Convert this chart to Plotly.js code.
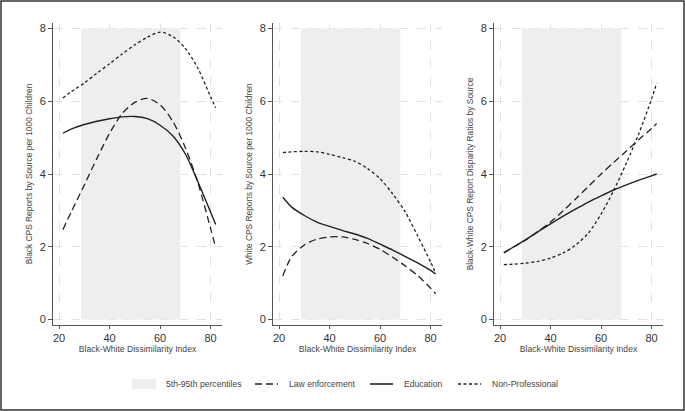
<!DOCTYPE html>
<html>
<head>
<meta charset="utf-8">
<script src="https://cdn.plot.ly/plotly-3.0.1.min.js"></script>
<style>
  html, body { margin: 0; padding: 0; background: #fff; }
  #chart { width: 685px; height: 411px; }
</style>
</head>
<body>
<div id="chart"></div>
<script>
// Black-White dissimilarity index (x) at which each fitted curve was read
const dissim = [21.5, 25, 30, 35, 40, 45, 50, 55, 60, 65, 70, 75, 80, 82];

// Panel 1: Black CPS reports by source per 1000 children
const blackLaw = [2.47, 2.98, 3.70, 4.43, 5.12, 5.66, 5.97, 6.08, 5.90, 5.45, 4.72, 3.75, 2.50, 1.98];
const blackEdu = [5.12, 5.24, 5.36, 5.45, 5.52, 5.57, 5.58, 5.52, 5.34, 5.05, 4.55, 3.78, 2.95, 2.61];
const blackNonPro = [6.09, 6.27, 6.50, 6.77, 7.03, 7.30, 7.55, 7.76, 7.90, 7.78, 7.45, 6.90, 6.12, 5.82];

// Panel 2: White CPS reports by source per 1000 children
const whiteLaw = [1.20, 1.73, 2.05, 2.21, 2.27, 2.27, 2.20, 2.09, 1.93, 1.71, 1.47, 1.20, 0.86, 0.71];
const whiteEdu = [3.36, 3.09, 2.86, 2.68, 2.56, 2.45, 2.35, 2.23, 2.07, 1.91, 1.73, 1.55, 1.35, 1.25];
const whiteNonPro = [4.59, 4.61, 4.62, 4.61, 4.54, 4.45, 4.35, 4.15, 3.87, 3.45, 2.95, 2.28, 1.58, 1.27];

// Panel 3: Black-White disparity ratios by source
const ratioLaw = [1.83, 1.98, 2.18, 2.42, 2.68, 2.99, 3.32, 3.66, 4.00, 4.32, 4.63, 4.95, 5.25, 5.39];
const ratioEdu = [1.84, 1.98, 2.19, 2.41, 2.63, 2.84, 3.04, 3.23, 3.40, 3.56, 3.70, 3.83, 3.95, 4.00];
const ratioNonPro = [1.51, 1.52, 1.55, 1.60, 1.69, 1.83, 2.05, 2.38, 2.90, 3.55, 4.30, 5.12, 6.07, 6.50];

// 5th-95th percentile band of the dissimilarity index
const bandX = [28.6, 68.0];
const bandY = [0, 8];

const seriesNames = ['5th-95th percentiles', 'Law enforcement', 'Education', 'Non-Professional'];
const yTitles = [
    'Black CPS Reports by Source per 1000 Children',
    'White CPS Reports by Source per 1000 Children',
    'Black-White CPS Report Disparity Ratios by Source'
];
const xTitle = 'Black-White Dissimilarity Index';
const xTicks = [20, 40, 60, 80];
const yTicks = [0, 2, 4, 6, 8];

const W = 685, H = 411;
const INK = '#222';
const FONT = 'Liberation Sans, Arial, sans-serif';
const dashStyles = { law: '7px,4px', edu: 'solid', nonpro: '3px,2.5px' };

const panels = [
    { law: blackLaw, edu: blackEdu, nonpro: blackNonPro, left: 53 },
    { law: whiteLaw, edu: whiteEdu, nonpro: whiteNonPro, left: 273 },
    { law: ratioLaw, edu: ratioEdu, nonpro: ratioNonPro, left: 494 }
];
const panelWidth = 169;

const traces = [];
const layout = {
    width: W, height: H,
    margin: { l: 0, r: 0, t: 0, b: 0 },
    paper_bgcolor: '#fff',
    plot_bgcolor: '#fff',
    font: { family: FONT, color: '#333' },
    showlegend: false,
    shapes: [],
    annotations: []
};

panels.forEach((p, i) => {
    const sfx = i === 0 ? '' : String(i + 1);
    const xa = 'x' + sfx, ya = 'y' + sfx;

    // shaded percentile band
    traces.push({
        type: 'scatter', mode: 'lines', xaxis: xa, yaxis: ya,
        x: [bandX[0], bandX[1], bandX[1], bandX[0], bandX[0]],
        y: [bandY[0], bandY[0], bandY[1], bandY[1], bandY[0]],
        fill: 'toself', fillcolor: '#eeeeee',
        line: { width: 0 }, hoverinfo: 'skip'
    });

    [['law', 1.3], ['edu', 1.4], ['nonpro', 1.3]].forEach(([key, w]) => {
        traces.push({
            type: 'scatter', mode: 'lines', xaxis: xa, yaxis: ya,
            x: dissim, y: p[key],
            line: { color: INK, width: w, dash: dashStyles[key], shape: 'spline', smoothing: 0.8 },
            hoverinfo: 'skip'
        });
    });

    const domX = [p.left / W, (p.left + panelWidth) / W];
    layout['xaxis' + sfx] = {
        domain: domX, anchor: ya, range: [17.6, 84.5],
        tickvals: xTicks, ticks: 'outside', ticklen: 3, tickcolor: '#555',
        showline: true, linecolor: '#555', linewidth: 1,
        showgrid: true, gridcolor: '#e2e2e2', griddash: 'dash', gridwidth: 1,
        zeroline: false,
        tickfont: { size: 11, color: '#333', family: FONT },
        title: { text: xTitle, font: { size: 8.6, color: '#444', family: FONT }, standoff: 1 }
    };
    layout['yaxis' + sfx] = {
        domain: [1 - 325 / H, 1 - 23 / H], anchor: xa, range: [-0.15, 8.15],
        tickvals: yTicks, ticks: 'outside', ticklen: 4, tickcolor: '#555',
        showline: true, linecolor: '#555', linewidth: 1,
        showgrid: true, gridcolor: '#e2e2e2', griddash: 'dash', gridwidth: 1,
        zeroline: false,
        tickfont: { size: 11, color: '#333', family: FONT },
        title: { text: yTitles[i], font: { size: 8.4, color: '#444', family: FONT }, standoff: 5 }
    };
});

// outer frame
layout.shapes.push({
    type: 'rect', xref: 'paper', yref: 'paper',
    x0: 1 / W, x1: (W - 1) / W, y0: 1 / H, y1: 1 - 1 / H,
    line: { color: '#333', width: 1.5 }, fillcolor: 'rgba(0,0,0,0)'
});

// legend row
const px = v => v / W;
const py = v => 1 - v / H;
const legY = 384;
const legItems = [
    { kind: 'box', x0: 132, x1: 156, tx: 164 },
    { kind: 'law', x0: 255, x1: 278, tx: 287 },
    { kind: 'edu', x0: 370, x1: 393, tx: 402 },
    { kind: 'nonpro', x0: 458, x1: 481, tx: 490 }
];
legItems.forEach((it, k) => {
    if (it.kind === 'box') {
        layout.shapes.push({
            type: 'rect', xref: 'paper', yref: 'paper',
            x0: px(it.x0), x1: px(it.x1), y0: py(legY + 5), y1: py(legY - 5),
            line: { width: 0 }, fillcolor: '#eeeeee'
        });
    } else {
        layout.shapes.push({
            type: 'line', xref: 'paper', yref: 'paper',
            x0: px(it.x0), x1: px(it.x1), y0: py(legY), y1: py(legY),
            line: { color: INK, width: 1.6, dash: dashStyles[it.kind] }
        });
    }
    layout.annotations.push({
        xref: 'paper', yref: 'paper', x: px(it.tx), y: py(legY),
        xanchor: 'left', yanchor: 'middle', showarrow: false,
        text: seriesNames[k], font: { size: 8.6, color: '#444', family: FONT }
    });
});

Plotly.newPlot('chart', traces, layout, { displayModeBar: false, staticPlot: true });
</script>
</body>
</html>
